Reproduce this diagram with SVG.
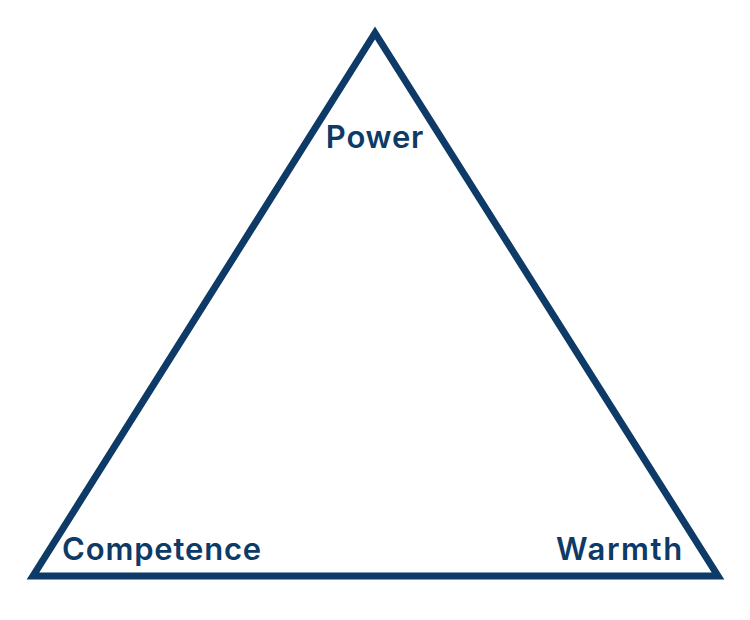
<svg xmlns="http://www.w3.org/2000/svg" width="750" height="620" viewBox="0 0 750 620">
<style>
.t{font-family:Inter,"Open Sans","Liberation Sans",sans-serif;font-weight:600;font-size:31px;letter-spacing:0.8px;fill:#0d3a66}
</style>
<rect width="750" height="620" fill="#fff"/>
<g id="connectors">
<polygon points="375,33 33,576 718,576" fill="none" stroke="#0d3a66" stroke-width="7" stroke-linejoin="miter"/>
</g>
<g id="power"><text class="t" x="375" y="148" text-anchor="middle">Power</text></g>
<g id="competence"><text class="t" x="62" y="560" textLength="200">Competence</text></g>
<g id="warmth"><text class="t" x="556" y="560" textLength="127">Warmth</text></g>
</svg>
